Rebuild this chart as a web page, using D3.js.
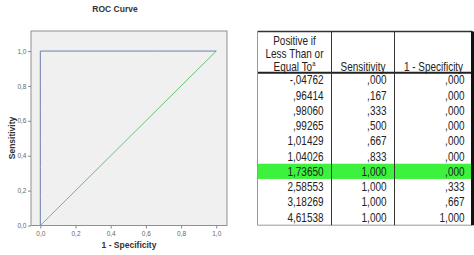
<!DOCTYPE html>
<html>
<head>
<meta charset="utf-8">
<script src="https://cdn.jsdelivr.net/npm/d3@7"></script>
<style>
  body { margin: 0; background: #fff; }
  svg { display: block; }
</style>
</head>
<body>
<svg width="474" height="255"></svg>
<script>
// ROC table data
const cutoffs = ["-,04762", ",96414", ",98060", ",99265", "1,01429", "1,04026", "1,73650", "2,58553", "3,18269", "4,61538"];
const sensitivity = [0, 0.167, 0.333, 0.5, 0.667, 0.833, 1, 1, 1, 1];
const oneMinusSpec = [0, 0, 0, 0, 0, 0, 0, 0.333, 0.667, 1];
const tickVals = [0, 0.2, 0.4, 0.6, 0.8, 1.0];
const highlightRow = 6;

const svg = d3.select("svg");

// chart part
const x = d3.scaleLinear().domain([-0.053, 1.061]).range([31, 227]);
const y = d3.scaleLinear().domain([0, 1.115]).range([225.5, 31]);
const commaFmt = (d) => d3.format(".1f")(d).replace(".", ",");

svg.append("rect")
  .attr("x", x.range()[0]).attr("y", y.range()[1])
  .attr("width", x.range()[1] - x.range()[0])
  .attr("height", y.range()[0] - y.range()[1])
  .attr("fill", "#f0f0f0").attr("stroke", "#8f8f8f").attr("stroke-width", 1);

const yAxis = svg.append("g")
  .attr("transform", "translate(31,0)")
  .call(d3.axisLeft(y).tickValues(tickVals).tickFormat(commaFmt).tickSize(3).tickPadding(1.5).tickSizeOuter(0));
const xAxis = svg.append("g")
  .attr("transform", "translate(0,225.5)")
  .call(d3.axisBottom(x).tickValues(tickVals).tickFormat(commaFmt).tickSize(3).tickPadding(3).tickSizeOuter(0));
[xAxis, yAxis].forEach((g) => {
  g.select(".domain").remove();
  g.selectAll("line").attr("stroke", "#888");
  g.selectAll("text").attr("fill", "#666").attr("font-size", 6.5).attr("font-family", "Liberation Sans, Arial, sans-serif");
});

// diagonal reference line
svg.append("path")
  .datum([0, 1])
  .attr("fill", "none").attr("stroke", "#6cbf7a").attr("stroke-width", 1)
  .attr("d", d3.line().x((d) => x(d)).y((d) => y(d)));

// ROC curve
const rocPts = oneMinusSpec.map((v, i) => ({ fx: v, s: sensitivity[i] }));
svg.append("path")
  .datum(rocPts)
  .attr("fill", "none").attr("stroke", "#6a7fae").attr("stroke-width", 1)
  .attr("d", d3.line().x((d) => x(d.fx)).y((d) => y(d.s)));

const bold = (t, px, py, rot) => {
  const el = svg.append("text")
    .attr("x", px).attr("y", py)
    .attr("text-anchor", "middle")
    .attr("font-family", "Liberation Sans, Arial, sans-serif")
    .attr("font-weight", "bold").attr("font-size", 8.5).attr("fill", "#333")
    .text(t);
  if (rot) el.attr("transform", `rotate(-90,${px},${py})`);
};
bold("ROC Curve", 115, 12);
bold("1 - Specificity", 129, 247.5);
bold("Sensitivity", 15, 138, true);

// table part (text squeezed horizontally like the source)
const squeeze = 0.83;
const tbl = svg.append("g").attr("font-family", "Liberation Sans, Arial, sans-serif").attr("font-size", 12).attr("fill", "#222");
const tx0 = 257.5, tx1 = 331.5, tx2 = 394.5, tx3 = 472.5;
const tblTop = 31.5, headBot = 72.7, rowH = 15.25;
const rowY = d3.scaleLinear().domain([0, cutoffs.length]).range([headBot, headBot + rowH * cutoffs.length]);

tbl.append("rect")
  .attr("x", tx0).attr("y", rowY(highlightRow) - 0.5)
  .attr("width", tx3 - tx0).attr("height", rowH)
  .attr("fill", "#3cf23c");

const putText = (t, px, py, anchor) => {
  const el = tbl.append("text")
    .attr("transform", `translate(${px},${py}) scale(${squeeze},1)`)
    .attr("text-anchor", anchor);
  if (t !== null) el.text(t);
  return el;
};

const fmt3 = (v) => d3.format(".3f")(v).replace(/^0/, "").replace(".", ",");
const cols = [
  { vals: cutoffs, right: 323.5 },
  { vals: sensitivity.map(fmt3), right: 386.5 },
  { vals: oneMinusSpec.map(fmt3), right: 464.5 }
];
cols.forEach((c) => {
  c.vals.forEach((v, i) => putText(v, c.right, rowY(i) + rowH / 2 + 4, "end"));
});

// header
["Positive if", "Less Than or"].forEach((t, i) => putText(t, (tx0 + tx1) / 2, 45 + i * 13.2, "middle"));
const h3 = putText(null, (tx0 + tx1) / 2, 71.4, "middle");
h3.append("tspan").text("Equal To");
h3.append("tspan").attr("font-size", 7).attr("dy", -5).text("a");
putText("Sensitivity", (tx1 + tx2) / 2, 71.4, "middle");
putText("1 - Specificity", (tx2 + tx3) / 2, 71.4, "middle");

// borders
const tblBot = rowY(cutoffs.length);
const ln = (a, b, c, d, col, w) => svg.append("line").attr("x1", a).attr("y1", b).attr("x2", c).attr("y2", d).attr("stroke", col).attr("stroke-width", w);
ln(tx0, tblTop, tx3, tblTop, "#333", 1.5);
ln(tx0, headBot, tx3, headBot, "#222", 2);
ln(tx0, tblBot, tx3, tblBot, "#999", 1);
ln(tx0, tblTop, tx0, tblBot, "#999", 1);
ln(tx1, tblTop, tx1, tblBot, "#333", 1);
ln(tx2, tblTop, tx2, tblBot, "#333", 1);
ln(tx3, tblTop, tx3, tblBot, "#111", 3);
</script>
</body>
</html>
